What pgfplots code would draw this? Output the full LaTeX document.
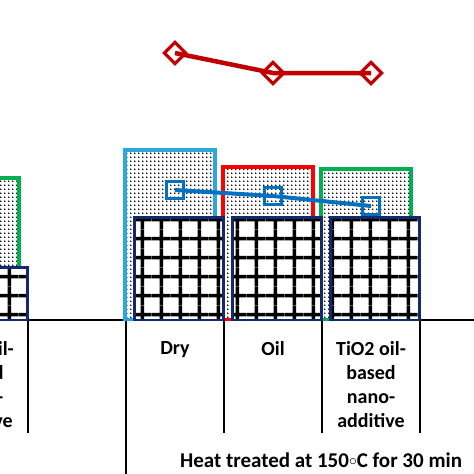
\documentclass[border=0pt]{standalone}
\usepackage{pgfplots}
\pgfplotsset{compat=1.18}
\usetikzlibrary{patterns.meta}
\usepackage{fontspec}
\setmainfont{Carlito}

\definecolor{drycol}{HTML}{29A8E0}
\definecolor{oilcol}{HTML}{FF0000}
\definecolor{tiocol}{HTML}{00B050}
\definecolor{navy}{HTML}{14286E}
\definecolor{redline}{HTML}{C00000}
\definecolor{blueline}{HTML}{0070C0}

\newcommand\lbl{\fontsize{20}{24}\selectfont\bfseries}

% dense dots for the first bar of each pair
\tikzdeclarepattern{
  name=bardots,
  tile size={(4.2pt,4.2pt)},
  bottom left={(0pt,0pt)}, top right={(4.2pt,4.2pt)},
  code={\pgfpathcircle{\pgfqpoint{2.1pt}{2.1pt}}{1.1pt}\pgfusepath{fill}}
}
% coarse grid for the second bar
\tikzdeclarepattern{
  name=bargrid,
  tile size={(18.8pt,18.8pt)},
  bottom left={(0pt,0pt)}, top right={(18.8pt,18.8pt)},
  code={
    \pgfsetlinewidth{3.6pt}
    \pgfpathmoveto{\pgfqpoint{0pt}{9.4pt}}\pgfpathlineto{\pgfqpoint{18.8pt}{9.4pt}}
    \pgfpathmoveto{\pgfqpoint{9.4pt}{0pt}}\pgfpathlineto{\pgfqpoint{9.4pt}{18.8pt}}
    \pgfusepath{stroke}
  }
}

\begin{document}
\begin{tikzpicture}
\useasboundingbox (0pt,-154pt) rectangle (474pt,320pt);
\begin{axis}[
    width=474pt, height=320pt, scale only axis,
    xmin=-1.7857, xmax=3.051,
    ymin=0, ymax=320,
    axis x line*=bottom,
    axis y line=none,
    axis line style={black, line width=1.8pt},
    xtick={-1.5,0.5,1.5,2.5},
    xticklabels={},
    extra x ticks={-0.5},
    extra x tick labels={},
    extra x tick style={major tick length=160pt},
    tick align=outside,
    major tick length=113pt,
    x tick style={black, line width=1.8pt},
    clip mode=individual,
]
% dotted bars
\addplot[ybar, bar width=0.92, bar shift=-0.05, draw=tiocol, line width=3.5pt,
    fill=white, postaction={pattern=bardots, pattern color=black}] coordinates {(-2,142) (2,151)};
\addplot[ybar, bar width=0.92, bar shift=-0.05, draw=drycol, line width=3.5pt,
    fill=white, postaction={pattern=bardots, pattern color=black}] coordinates {(0,170)};
\addplot[ybar, bar width=0.92, bar shift=-0.05, draw=oilcol, line width=3.5pt,
    fill=white, postaction={pattern=bardots, pattern color=black}] coordinates {(1,153)};
% grid bars
\addplot[ybar, bar width=0.91, bar shift=0.04, draw=navy, line width=3pt,
    fill=white, postaction={pattern=bargrid, pattern color=black}]
    coordinates {(-2,53) (0,103) (1,103) (2,103)};
% lines
\addplot[redline, line width=4.5pt, mark=square, mark size=7.5pt,
    mark options={rotate=45, line width=3.2pt}] coordinates {(0,267) (1,247) (2,247)};
\addplot[blueline, line width=4pt, mark=square, mark size=8.5pt,
    mark options={line width=2.8pt}] coordinates {(0,130) (1,124) (2,114)};

\node[anchor=north, inner sep=0pt, align=center, font=\lbl] at (axis cs:-2,-21) {TiO2 oil-\\based\\nano-\\additive};
\node[anchor=north, inner sep=0pt, font=\lbl] at (axis cs:0,-21) {Dry};
\node[anchor=north, inner sep=0pt, font=\lbl] at (axis cs:1,-21) {Oil};
\node[anchor=north, inner sep=0pt, align=center, font=\lbl] at (axis cs:2,-21) {TiO2 oil-\\based\\nano-\\additive};
\node[anchor=base, inner sep=0pt, font=\fontsize{21}{24}\selectfont\bfseries] at (axis cs:1.49,-147)
    {Heat treated at 150\raisebox{1.5pt}{\scalebox{0.75}{$\circ$}}C for 30 min};
\end{axis}
\end{tikzpicture}
\end{document}
